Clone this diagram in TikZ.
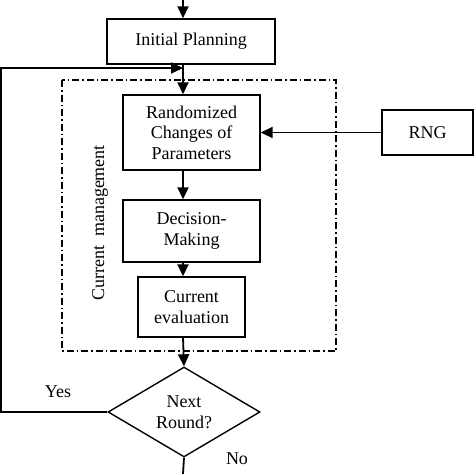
\documentclass[tikz,border=0pt]{standalone}
\usepackage{fontspec}
\setmainfont{Liberation Serif}
\usetikzlibrary{shapes.geometric,arrows.meta}
\begin{document}
\begin{tikzpicture}[x=1pt,y=-1pt,
  font=\fontsize{18}{20.5}\selectfont,
  box/.style={draw,line width=1.4pt,inner sep=0pt,align=center},
  arr/.style={line width=1.8pt,-{Triangle[length=12pt,width=11pt]}},
  ln/.style={line width=1.8pt},
  frame/.style={line width=1.3pt,dash pattern=on 7pt off 3pt on 1.5pt off 3pt}]
\useasboundingbox (0,0) rectangle (474,474);
\node[box,minimum width=168pt,minimum height=45pt] (ip) at (191,41.5) {Initial Planning};
\node[box,minimum width=137pt,minimum height=75pt] (rc) at (191.5,132.5) {Randomized\\Changes of\\Parameters};
\node[box,minimum width=137pt,minimum height=62pt] (dm) at (191.5,231) {Decision-\\Making};
\node[box,minimum width=107pt,minimum height=60pt] (ce) at (191.5,307) {Current\\evaluation};
\node[box,minimum width=91pt,minimum height=45pt] (rng) at (427.5,132.5) {RNG};
\node[draw,line width=1.4pt,shape=diamond,inner sep=0pt,minimum width=152pt,minimum height=90pt,align=center] (nr) at (184,412) {Next\\Round?};
\draw[frame] (62,80) rectangle (336,351);
\node[rotate=90] (cmlabel) at (100,223) {Current\ \ management};
\node (yes) at (58,392) {Yes};
\node (no) at (237,459) {No};
\coordinate (fx) at (183,0);
\coordinate (top) at (183,0);
\coordinate (bot) at (183,474);
\coordinate (lp) at (0.8,412);
\coordinate (fb) at (183,68);
\draw[arr] (top) -- (ip.north -| fx);
\draw[arr] (ip.south -| fx) -- (rc.north -| fx);
\draw[arr] (rc.south -| fx) -- (dm.north -| fx);
\draw[arr] (dm.south -| fx) -- (ce.north -| fx);
\draw[arr] (ce.south -| fx) -- (nr.north);
\draw[arr] (rng.west) -- (rc.east);
\draw[arr] (nr.west) -- (lp) |- (fb);
\draw[ln] (nr.south) -- (bot);
\end{tikzpicture}
\end{document}
